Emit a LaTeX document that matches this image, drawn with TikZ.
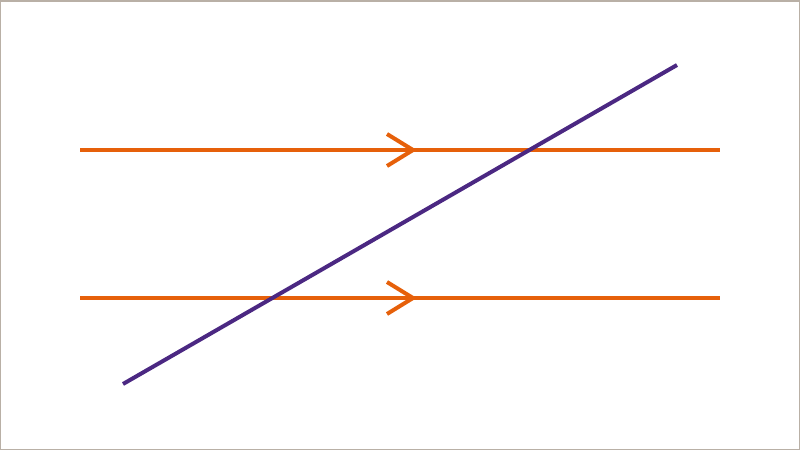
\documentclass[tikz,border=0pt]{standalone}
\usepackage{tikz}
\usetikzlibrary{calc}
\definecolor{parorange}{RGB}{230,96,10}
\definecolor{transpurple}{RGB}{75,40,130}
\definecolor{framegrey}{RGB}{185,176,166}

\begin{document}
\begin{tikzpicture}[
        x=0.02cm, y=-0.02cm,
        parallel/.style={draw=parorange, line width=0.08cm},
        chevron/.style={draw=parorange, line width=0.08cm, line join=miter},
        transversal/.style={draw=transpurple, line width=0.08cm},
        frame/.style={draw=framegrey, line width=0.03cm},
    ]

    \useasboundingbox (0,0) rectangle (800,450);
    \draw[frame] (0.75,0.75) rectangle (799.25,449.25);

    \coordinate (P1) at (80,150);
    \coordinate (Q1) at (720,150);
    \coordinate (P2) at (80,298);
    \coordinate (Q2) at (720,298);
    \coordinate (T1) at (123,384);
    \coordinate (T2) at (677,65);

    \coordinate (M1) at (413,150);
    \coordinate (M2) at (413,298);

    \draw[parallel] (P1) -- (Q1);
    \draw[parallel] (P2) -- (Q2);

    \draw[chevron] ($(M1)+(-26,-16)$) -- (M1) -- ($(M1)+(-26,16)$);
    \draw[chevron] ($(M2)+(-26,-16)$) -- (M2) -- ($(M2)+(-26,16)$);

    \draw[transversal] (T1) -- (T2);
\end{tikzpicture}
\end{document}
